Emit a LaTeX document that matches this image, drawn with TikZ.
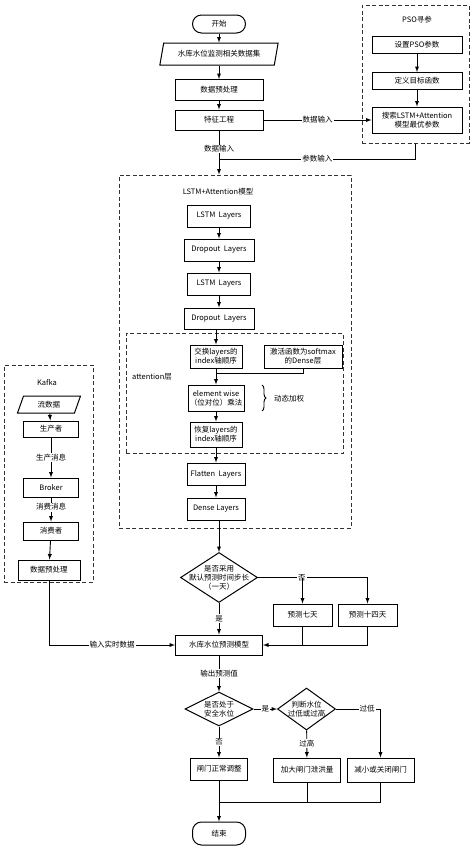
\documentclass[tikz,border=0pt]{standalone}
\usepackage{fontspec}
\setmainfont{Noto Sans CJK SC}
\usepackage{tikz}
\tikzset{>=latex}
\usetikzlibrary{shapes,arrows}
\usetikzlibrary{calc}
\usetikzlibrary{decorations.pathreplacing}
\tikzset{
  box/.style={draw, line width=1pt, align=center, inner sep=1pt, fill=white},
  term/.style={box, rounded corners=9pt},
  data/.style={box, trapezium, trapezium left angle=72, trapezium right angle=108, trapezium stretches=true},
  decision/.style={draw, line width=1pt, diamond, inner sep=0pt, fill=white},
  group/.style={draw, line width=1pt, dash pattern=on 4pt off 2.5pt, color=black!80},
  tag/.style={fill=white, inner sep=1pt},
}
\begin{document}
\begin{tikzpicture}[x=1pt,y=-1pt,font=\fontsize{7.5}{9}\selectfont,line width=0.9pt]
	\useasboundingbox (0,0) rectangle (474,849);
	% dashed groups
	\node[group, minimum width=107, minimum height=138] (pso) at (415.5,74) {};
	\node[group, minimum width=232, minimum height=353] (model) at (235,351.5) {};
	\node[group, minimum width=217, minimum height=120] (attn) at (234.5,393) {};
	\node[group, minimum width=89, minimum height=217] (kafka) at (48.5,473.5) {};
	\node (psotitle) at (417,20) {PSO寻参};
	\node (modeltitle) at (218,192) {LSTM+Attention模型};
	\node (attntitle) at (152,377) {attention层};
	\node (kafkatitle) at (47,383) {Kafka};
	% main column
	\node[term, minimum width=53, minimum height=18] (start) at (219,24) {开始};
	\node[data, minimum width=119, minimum height=22] (dataset) at (219,54) {水库水位监测相关数据集};
	\node[box, minimum width=88, minimum height=21] (prep) at (219,90) {数据预处理};
	\node[box, minimum width=88, minimum height=20] (feat) at (219,120) {特征工程};
	% PSO
	\node[box, minimum width=90, minimum height=17] (pso1) at (417,44.5) {设置PSO参数};
	\node[box, minimum width=90, minimum height=17] (pso2) at (417,81) {定义目标函数};
	\node[box, minimum width=90, minimum height=26] (pso3) at (417,120) {搜索LSTM+Attention\\模型最优参数};
	% LSTM+Attention
	\node[box, minimum width=63, minimum height=22] (lstma) at (219,216) {LSTM\ \ Layers};
	\node[box, minimum width=70, minimum height=22] (dropa) at (219,250) {Dropout\ \ Layers};
	\node[box, minimum width=63, minimum height=22] (lstmb) at (219,284) {LSTM\ \ Layers};
	\node[box, minimum width=70, minimum height=21] (dropb) at (219,318.5) {Dropout\ \ Layers};
	\node[box, minimum width=52, minimum height=23] (swap) at (216,356.5) {交换layers的\\index轴顺序};
	\node[box, minimum width=78, minimum height=23] (soft) at (303,356.5) {激活函数为softmax\\的Dense层};
	\node[box, minimum width=56, minimum height=26] (mult) at (216,398) {element wise\\（位对位）乘法};
	\node[box, minimum width=52, minimum height=25] (back) at (216,434.5) {恢复layers的\\index轴顺序};
	\node[box, minimum width=58, minimum height=22] (flat) at (216,474) {Flatten\ \ Layers};
	\node[box, minimum width=58, minimum height=22] (dense) at (216,509) {Dense Layers};
	\node (weight) at (289,399) {动态加权};
	% Kafka
	\node[data, minimum width=63, minimum height=17] (stream) at (49,404.5) {流数据};
	\node[box, minimum width=55, minimum height=16] (prod) at (51,429) {生产者};
	\node[box, minimum width=55, minimum height=19] (broker) at (51,487.5) {Broker};
	\node[box, minimum width=55, minimum height=18] (cons) at (51,531) {消费者};
	\node[box, minimum width=62, minimum height=20] (kprep) at (49,570) {数据预处理};
	% prediction
	\node[decision, minimum width=77, minimum height=50, label={[align=center]center:是否采用\\默认预测时间步长\\（一天）}] (step) at (219,577.5) {};
	\node[box, minimum width=59, minimum height=22] (seven) at (302.5,615) {预测七天};
	\node[box, minimum width=59, minimum height=22] (fourteen) at (367.5,615) {预测十四天};
	\node[box, minimum width=87, minimum height=20] (pred) at (219,645) {水库水位预测模型};
	\node[decision, minimum width=68, minimum height=34, label={[align=center]center:是否处于\\安全水位}] (safe) at (219,709) {};
	\node[decision, minimum width=58, minimum height=42, label={[align=center]center:判断水位\\过低或过高}] (level) at (306.5,709) {};
	\node[box, minimum width=57, minimum height=22] (normal) at (219,769) {闸门正常调整};
	\node[box, minimum width=67, minimum height=24] (high) at (307,770) {加大闸门泄洪量};
	\node[box, minimum width=67, minimum height=24] (low) at (380.5,770) {减小或关闭闸门};
	\node[term, minimum width=53, minimum height=23] (stop) at (219,833.5) {结束};
	\coordinate (join) at (216,373);
	\coordinate (merge) at (219,802);
	% connectors
	\draw[->] (start) -- (dataset);
	\draw[->] (dataset) -- (prep);
	\draw[->] (prep) -- (feat);
	\draw[->] (feat) -- node[tag] {数据输入} (pso3);
	\draw[->] (pso1) -- (pso2);
	\draw[->] (pso2) -- (pso3);
	\draw[->] (feat) -- node[tag, pos=0.42] {数据输入} (feat |- model.north);
	\draw (pso.south) |- node[tag, pos=0.75] {参数输入} (219,159);
	\draw[->] (lstma) -- (dropa);
	\draw[->] (dropa) -- (lstmb);
	\draw[->] (lstmb) -- (dropb);
	\draw[->] (dropb.south -| swap) -- (swap);
	\draw[->] (swap) -- (mult);
	\draw (soft) |- (join);
	\draw[->] (mult) -- (back);
	\draw[->] (back) -- (flat);
	\draw[->] (flat) -- (dense);
	\draw[decorate, decoration={brace, amplitude=4pt}] (262,385) -- (262,411);
	\draw[->] (dense.south -| step.north) -- (step);
	\draw[->] (stream) -- (prod);
	\draw[->] (prod) -- node[tag] {生产消息} (broker);
	\draw[->] (broker) -- node[tag, pos=0.4] {消费消息} (cons);
	\draw[->] (cons) -- (kprep);
	\draw[->] (kprep) |- node[tag, pos=0.75] {输入实时数据} (pred);
	\draw[->] (step) -- node[tag] {是} (pred);
	\draw (step) -- node[tag, pos=0.4] {否} (fourteen |- step);
	\draw[->] (seven |- step) -- (seven);
	\draw[->] (fourteen |- step) -- (fourteen);
	\draw (seven) -- (seven |- pred);
	\draw[->] (fourteen) |- (pred);
	\draw[->] (pred) -- node[tag] {输出预测值} (safe);
	\draw[->] (safe) -- node[tag] {是} (level);
	\draw[->] (safe) -- node[tag] {否} (normal);
	\draw[->] (level) -- node[tag] {过高} (high);
	\draw[->] (level) -| node[tag, pos=0.35] {过低} (low);
	\draw[->] (normal) -- (stop);
	\draw (high) |- (merge);
	\draw (low) |- (merge);
\end{tikzpicture}
\end{document}
